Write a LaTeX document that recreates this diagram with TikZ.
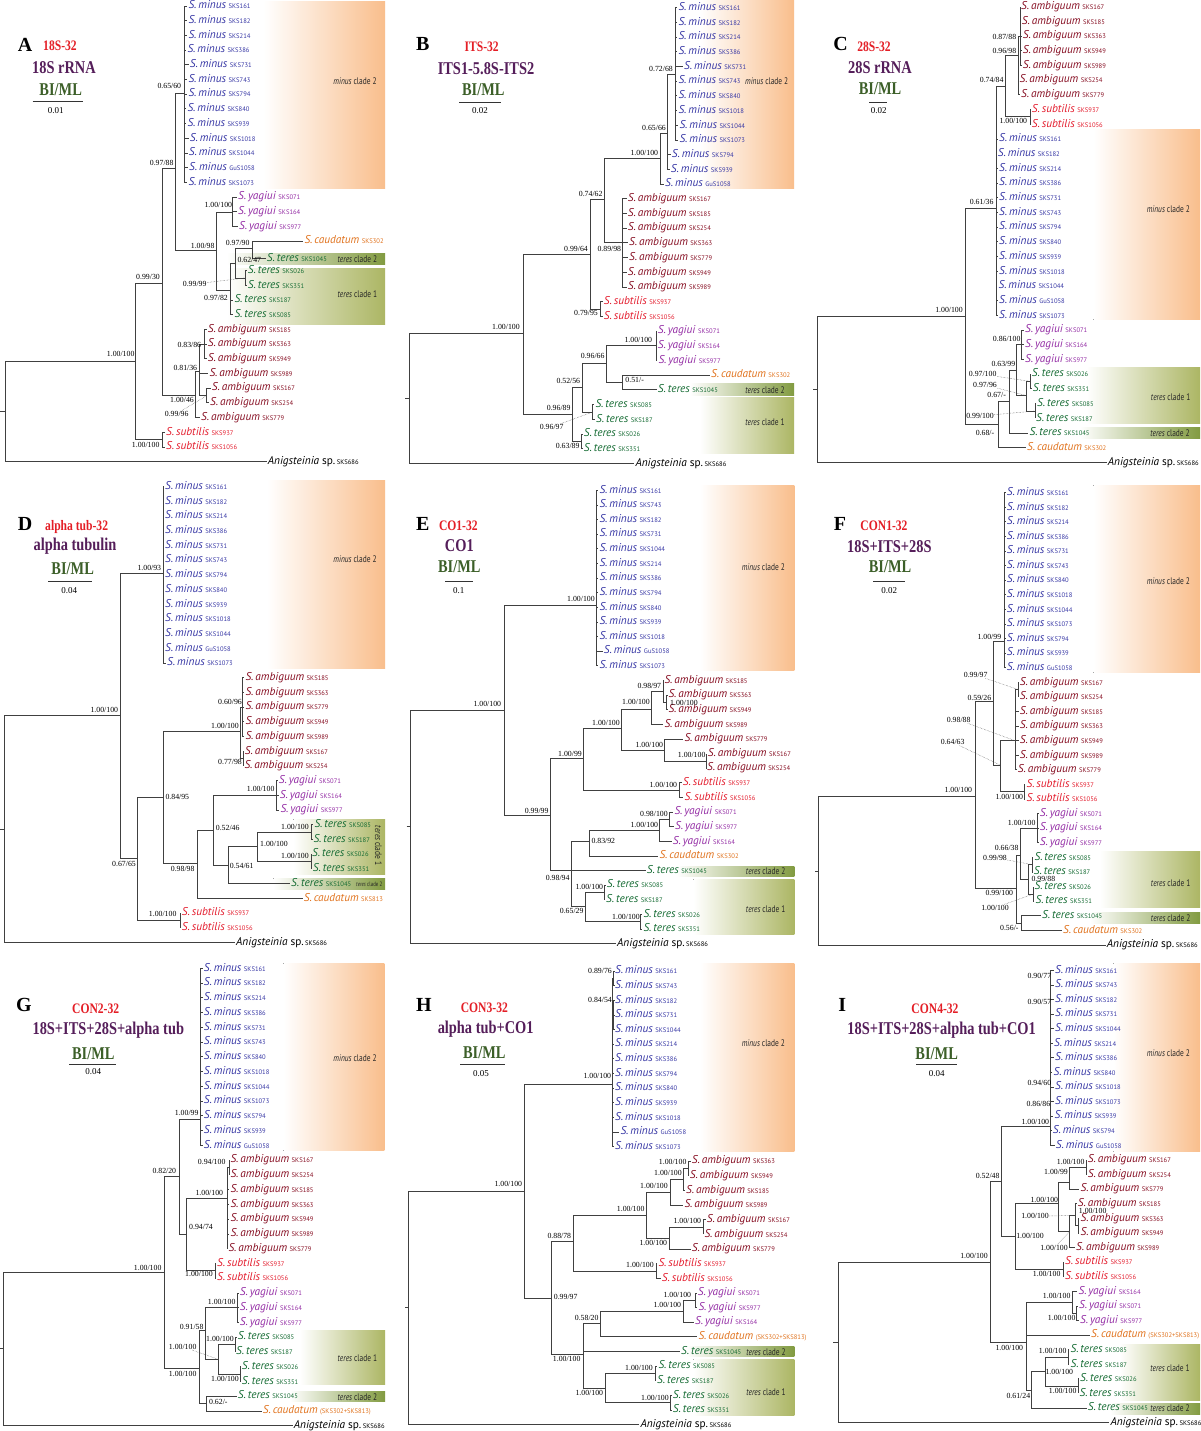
\documentclass[tikz,border=0pt]{standalone}
\usepackage{fontspec}
\setmainfont{Liberation Serif}
\newfontfamily\txfont{PT Sans}
\newfontfamily\ttlfont[FakeStretch=0.8]{Liberation Serif}
\newfontfamily\cladefont[FakeStretch=0.78]{PT Sans}
\definecolor{cmi}{RGB}{55,55,165}
\definecolor{cam}{RGB}{135,15,35}
\definecolor{csu}{RGB}{228,28,45}
\definecolor{cya}{RGB}{148,45,165}
\definecolor{cte}{RGB}{22,108,52}
\definecolor{cca}{RGB}{225,115,30}
\definecolor{tred}{RGB}{228,30,38}
\definecolor{tpur}{RGB}{85,30,90}
\definecolor{tgrn}{RGB}{60,95,40}
\definecolor{corg}{RGB}{249,190,140}
\definecolor{cteA}{RGB}{172,182,100}
\definecolor{cteB}{RGB}{130,155,65}
\newcommand\codefont{\fontsize{6.6}{6.6}\selectfont}
\newcommand\spn[2]{\textit{S.\hspace{1.8pt}#1}\hspace{2.5pt}{\codefont #2}}
\newcommand\PY{0}
\newcommand\PDY{44}
\newcommand\leafat[5]{\coordinate (#1) at (#2,{\PY+\PDY*#3});\node[leafn,#4] (#1t) at (#1) {#5};}
\newcommand\MI[4]{\leafat{#1}{#2}{#3}{text=cmi}{\spn{minus}{#4}}}
\newcommand\AM[4]{\leafat{#1}{#2}{#3}{text=cam}{\spn{ambiguum}{#4}}}
\newcommand\SU[4]{\leafat{#1}{#2}{#3}{text=csu}{\spn{subtilis}{#4}}}
\newcommand\YA[4]{\leafat{#1}{#2}{#3}{text=cya}{\spn{yagiui}{#4}}}
\newcommand\TE[4]{\leafat{#1}{#2}{#3}{text=cte}{\spn{teres}{#4}}}
\newcommand\CA[4]{\leafat{#1}{#2}{#3}{text=cca}{\spn{caudatum}{#4}}}
\newcommand\AN[3]{\leafat{#1}{#2}{#3}{text=black}{\textit{Anigsteinia} sp.\hspace{1.5pt}{\codefont SKS686}}}
\newcommand\inode[3]{\coordinate (#1) at (#2,#3);}
\newcommand\edges[2]{\foreach \kid in {#2}{\draw[brch] (#1) |- (\kid);}}
\newcommand\edgesr[4]{\foreach \kid in {#3,...,#4}{\draw[brch] (#1) |- (#2\kid);}}
\newcounter{sc}
\newcommand\supp[3]{\stepcounter{sc}\node[supv] (s\number\value{sc}) at (#1,#2) {#3};}
\newcommand\lead[4]{\supp{#1}{#2}{#3}\draw[leadl] (s\number\value{sc}) -- (#4);}
\newcommand\cbox[5]{\fill[left color=white,right color=#1] (#2,#3) rectangle (#4,#5);}
\tikzset{
 brch/.style={line width=0.8pt,draw=black!75},
 leadl/.style={densely dotted,line width=0.45pt,draw=black!70},
 leafn/.style={anchor=west,inner sep=1pt,font=\txfont\fontsize{11.3}{12}\selectfont,text height=8pt,text depth=2.5pt},
 supv/.style={font=\fontsize{7.8}{8}\selectfont,inner sep=0.5pt},
 plet/.style={font=\bfseries\fontsize{20}{20}\selectfont},
 psub/.style={text=tred,font=\ttlfont\bfseries\fontsize{14.5}{15}\selectfont},
 pgene/.style={text=tpur,font=\ttlfont\bfseries\fontsize{18}{18}\selectfont},
 pbim/.style={text=tgrn,font=\ttlfont\bfseries\fontsize{18}{18}\selectfont},
 pscl/.style={font=\fontsize{9}{9}\selectfont},
 sbar/.style={line width=0.9pt,draw=black!80},
 clab/.style={font=\cladefont\fontsize{9.5}{10}\selectfont,text=black!85},
 panel/.style={x=0.33333pt,y=-0.33333pt}
}
\begin{document}
\begin{tikzpicture}[x=1pt,y=-1pt]
\fill[white] (0,0) rectangle (1200,1431);
\useasboundingbox (0,0) rectangle (1200,1431);
%%%%%%%%%%%%%%%% A
\begin{scope}[xshift=0pt,yshift=0pt,panel]
\renewcommand\PY{18}\renewcommand\PDY{44.1}
\cbox{corg}{790}{5}{1155}{565}
\cbox{cteB}{680}{762}{1155}{795}
\cbox{cteA}{680}{807}{1155}{973}
\node[clab] (Acl1) at (1065,245) {\textit{minus} clade 2};
\node[clab] (Acl2) at (1072,779) {\textit{teres} clade 2};
\node[clab] (Acl3) at (1072,882) {\textit{teres} clade 1};
\node[plet] (Alet) at (75,135) {A};
\node[psub] (Asub) at (180,138) {18S-32};
\node[pgene] (Agen) at (192,203) {18S rRNA};
\node[pbim] (Abim) at (182,268) {BI/ML};
\draw[sbar] (98,305) -- (248,305);
\node[pscl] (Ascl) at (167,333) {0.01};
\MI{A0}{562}{0}{SKS161}
\MI{A1}{562}{1}{SKS182}
\MI{A2}{562}{2}{SKS214}
\MI{A3}{559}{3}{SKS386}
\MI{A4}{566}{4}{SKS731}
\MI{A5}{562}{5}{SKS743}
\MI{A6}{562}{6}{SKS794}
\MI{A7}{559}{7}{SKS840}
\MI{A8}{559}{8}{SKS939}
\MI{A9}{566}{9}{SKS1018}
\MI{A10}{563}{10}{SKS1044}
\MI{A11}{564}{11}{GuS1058}
\MI{A12}{562}{12}{SKS1073}
\YA{A13}{711}{13}{SKS071}
\YA{A14}{711}{14}{SKS164}
\YA{A15}{714}{15}{SKS977}
\CA{A16}{910}{16}{SKS302}
\TE{A17}{797}{17.2}{SKS1045}
\TE{A18}{740}{18}{SKS026}
\TE{A19}{740}{19}{SKS351}
\TE{A20}{700}{20}{SKS187}
\TE{A21}{700}{21}{SKS085}
\AM{A22}{620}{22}{SKS185}
\AM{A23}{620}{23}{SKS363}
\AM{A24}{620}{24}{SKS949}
\AM{A25}{625}{25}{SKS989}
\AM{A26}{632}{26}{SKS167}
\AM{A27}{627}{27}{SKS254}
\AM{A28}{600}{28}{SKS779}
\SU{A29}{495}{29}{SKS937}
\SU{A30}{495}{30}{SKS1056}
\AN{A31}{800}{31}
\inode{Ar}{15}{1235}\inode{Ast}{0}{1235}
\inode{Ab}{407}{1083}\inode{Ac}{487}{850}\inode{Ad}{527}{505}\inode{Ae}{553}{280}
\inode{Af}{650}{752}\inode{Ag}{697}{636}\inode{Ah}{690}{872}\inode{Ai}{707}{790}
\inode{Aj}{757}{745}\inode{Ak}{735}{834}\inode{Al}{585}{1185}\inode{Am}{597}{1115}
\inode{An}{612}{1032}\inode{Ao}{620}{1187}\inode{Ap}{487}{1319}
\draw[brch] (Ast) -- (Ar);
\edges{Ar}{Ab,A31}
\edges{Ab}{Ac,Ap}
\edges{Ac}{Ad,Al}
\edges{Ad}{Ae,Af}
\edgesr{Ae}{A}{0}{12}
\edges{Af}{Ag,Ah}
\edgesr{Ag}{A}{13}{15}
\edges{Ah}{Ai,A20,A21}
\edges{Ai}{Aj,Ak}
\edges{Aj}{A16,A17}
\edges{Ak}{A18,A19}
\edges{Al}{Am,A28}
\edges{Am}{An,A25,Ao}
\edgesr{An}{A}{22}{24}
\edges{Ao}{A26,A27}
\edges{Ap}{A29,A30}
\supp{508}{258}{0.65/60}
\supp{485}{490}{0.97/88}
\supp{608}{737}{1.00/98}
\supp{655}{614}{1.00/100}
\supp{713}{728}{0.97/90}
\supp{748}{780}{0.62/47}
\lead{584}{852}{0.99/99}{Ak}
\supp{648}{893}{0.97/82}
\supp{444}{830}{0.99/30}
\supp{362}{1062}{1.00/100}
\supp{568}{1035}{0.83/86}
\supp{556}{1103}{0.81/36}
\supp{546}{1200}{1.00/46}
\lead{530}{1241}{0.99/96}{Ao}
\supp{437}{1335}{1.00/100}
\end{scope}
%%%%%%%%%%%%%%%% B
\begin{scope}[xshift=400pt,yshift=0pt,panel]
\renewcommand\PY{23}\renewcommand\PDY{44.1}
\cbox{corg}{900}{0}{1182}{565}
\cbox{cteB}{870}{1152}{1182}{1187}
\cbox{cteA}{900}{1192}{1182}{1360}
\node[clab] (Bcl1) at (1100,245) {\textit{minus} clade 2};
\node[clab] (Bcl2) at (1095,1170) {\textit{teres} clade 2};
\node[clab] (Bcl3) at (1095,1268) {\textit{teres} clade 1};
\node[plet] (Blet) at (68,133) {B};
\node[psub] (Bsub) at (245,140) {ITS-32};
\node[pgene] (Bgen) at (258,205) {ITS1-5.8S-ITS2};
\node[pbim] (Bbim) at (250,270) {BI/ML};
\draw[sbar] (178,306) -- (302,306);
\node[pscl] (Bscl) at (240,333) {0.02};
\MI{B0}{832}{0}{SKS161}
\MI{B1}{832}{1}{SKS182}
\MI{B2}{832}{2}{SKS214}
\MI{B3}{832}{3}{SKS386}
\MI{B4}{849}{4}{SKS731}
\MI{B5}{832}{5}{SKS743}
\MI{B6}{832}{6}{SKS840}
\MI{B7}{832}{7}{SKS1018}
\MI{B8}{835}{8}{SKS1044}
\MI{B9}{835}{9}{SKS1073}
\MI{B10}{812}{10}{SKS794}
\MI{B11}{809}{11}{SKS939}
\MI{B12}{792}{12}{GuS1058}
\AM{B13}{680}{13}{SKS167}
\AM{B14}{680}{14}{SKS185}
\AM{B15}{680}{15}{SKS254}
\AM{B16}{684}{16}{SKS363}
\AM{B17}{684}{17}{SKS779}
\AM{B18}{680}{18}{SKS949}
\AM{B19}{680}{19}{SKS989}
\SU{B20}{608}{20}{SKS937}
\SU{B21}{608}{21}{SKS1056}
\YA{B22}{770}{22}{SKS071}
\YA{B23}{770}{23}{SKS164}
\YA{B24}{772}{24}{SKS977}
\CA{B25}{930}{25}{SKS302}
\TE{B26}{770}{26}{SKS1045}
\TE{B27}{583}{27}{SKS085}
\TE{B28}{585}{28}{SKS187}
\TE{B29}{548}{29}{SKS026}
\TE{B30}{548}{30}{SKS351}
\AN{B31}{703}{31}
\inode{Br}{28}{1195}\inode{Bst}{15}{1195}
\inode{Bb}{370}{1000}\inode{Bc}{570}{763}\inode{Bd}{612}{598}\inode{Be}{780}{475}
\inode{Bh}{803}{400}\inode{Bi}{826}{222}\inode{Bg}{668}{727}\inode{Bf}{602}{927}
\inode{Bm}{518}{1242}\inode{Bn}{547}{1163}\inode{Bo}{620}{1090}\inode{Bp}{768}{1037}
\inode{Bq}{668}{1147}\inode{Bt}{578}{1236}\inode{Bs}{545}{1324}
\draw[brch] (Bst) -- (Br);
\edges{Br}{Bb,B31}
\edges{Bb}{Bc,Bm}
\edges{Bc}{Bd,Bf}
\edges{Bd}{Be,Bg}
\edges{Be}{Bh,B12}
\edges{Bh}{Bi,B10,B11}
\edgesr{Bi}{B}{0}{9}
\edgesr{Bg}{B}{13}{19}
\edges{Bf}{B20,B21}
\edges{Bm}{Bn,Bs}
\edges{Bn}{Bo,Bt}
\edges{Bo}{Bp,Bq}
\edgesr{Bp}{B}{22}{24}
\edges{Bq}{B25,B26}
\edges{Bt}{B27,B28}
\edges{Bs}{B29,B30}
\supp{783}{207}{0.72/68}
\supp{762}{383}{0.65/66}
\supp{733}{459}{1.00/100}
\supp{572}{582}{0.74/62}
\supp{628}{746}{0.89/98}
\supp{528}{746}{0.99/64}
\supp{558}{940}{0.79/95}
\supp{318}{981}{1.00/100}
\supp{715}{1019}{1.00/100}
\supp{578}{1067}{0.96/66}
\supp{704}{1141}{0.51/-}
\supp{505}{1142}{0.52/56}
\supp{476}{1224}{0.96/89}
\lead{455}{1281}{0.96/97}{Bt}
\supp{503}{1337}{0.63/89}
\end{scope}
%%%%%%%%%%%%%%%% C
\begin{scope}[xshift=800pt,yshift=0pt,panel]
\renewcommand\PY{20}\renewcommand\PDY{44.1}
\cbox{corg}{880}{390}{1200}{960}
\cbox{cteA}{860}{1103}{1200}{1270}
\cbox{cteB}{840}{1284}{1200}{1315}
\node[clab] (Ccl1) at (1105,628) {\textit{minus} clade 2};
\node[clab] (Ccl2) at (1112,1193) {\textit{teres} clade 1};
\node[clab] (Ccl3) at (1110,1300) {\textit{teres} clade 2};
\node[plet] (Clet) at (122,132) {C};
\node[psub] (Csub) at (222,140) {28S-32};
\node[pgene] (Cgen) at (240,202) {28S rRNA};
\node[pbim] (Cbim) at (240,265) {BI/ML};
\draw[sbar] (208,306) -- (262,306);
\node[pscl] (Cscl) at (236,333) {0.02};
\AM{C0}{660}{0}{SKS167}
\AM{C1}{662}{1}{SKS185}
\AM{C2}{665}{2}{SKS363}
\AM{C3}{665}{3}{SKS949}
\AM{C4}{665}{4}{SKS989}
\AM{C5}{655}{5}{SKS254}
\AM{C6}{660}{6}{SKS779}
\SU{C7}{692}{7}{SKS937}
\SU{C8}{692}{8}{SKS1056}
\MI{C9}{594}{9}{SKS161}
\MI{C10}{590}{10}{SKS182}
\MI{C11}{594}{11}{SKS214}
\MI{C12}{594}{12}{SKS386}
\MI{C13}{594}{13}{SKS731}
\MI{C14}{594}{14}{SKS743}
\MI{C15}{594}{15}{SKS794}
\MI{C16}{594}{16}{SKS840}
\MI{C17}{594}{17}{SKS939}
\MI{C18}{594}{18}{SKS1018}
\MI{C19}{592}{19}{SKS1044}
\MI{C20}{594}{20}{GuS1058}
\MI{C21}{594}{21}{SKS1073}
\YA{C22}{672}{22}{SKS071}
\YA{C23}{672}{23}{SKS164}
\YA{C24}{672}{24}{SKS977}
\TE{C25}{692}{25}{SKS026}
\TE{C26}{695}{26}{SKS351}
\TE{C27}{708}{27}{SKS085}
\TE{C28}{705}{28}{SKS187}
\TE{C29}{685}{29}{SKS1045}
\CA{C30}{678}{30}{SKS302}
\AN{C31}{920}{31}
\inode{Cr}{52}{1168}\inode{Cst}{40}{1168}
\inode{Cb}{495}{948}\inode{Cc}{588}{625}\inode{Cd}{617}{258}\inode{Ce}{655}{165}
\inode{Cg}{660}{108}\inode{Cf}{690}{350}\inode{Cl}{595}{1272}\inode{Ck}{627}{1205}
\inode{Cj}{650}{1110}\inode{Ch}{665}{1034}\inode{Ci}{680}{1187}\inode{Cm}{690}{1144}
\inode{Cn}{705}{1233}
\draw[brch] (Cst) -- (Cr);
\edges{Cr}{Cb,C31}
\edges{Cb}{Cc,Cl}
\edges{Cc}{Cd}
\edgesr{Cc}{C}{9}{21}
\edges{Cd}{Ce,Cf}
\edges{Ce}{Cg,C5,C6}
\edgesr{Cg}{C}{0}{4}
\edges{Cf}{C7,C8}
\edges{Cl}{Ck,C30}
\edges{Ck}{Cj,C29}
\edges{Cj}{Ch,Ci}
\edgesr{Ch}{C}{22}{24}
\edges{Ci}{Cm,Cn}
\edges{Cm}{C25,C26}
\edges{Cn}{C27,C28}
\supp{613}{110}{0.87/88}
\supp{613}{152}{0.96/98}
\supp{575}{240}{0.74/84}
\supp{640}{363}{1.00/100}
\supp{545}{607}{0.61/36}
\supp{447}{930}{1.00/100}
\supp{620}{1018}{0.86/100}
\supp{610}{1093}{0.63/99}
\lead{548}{1123}{0.97/100}{Cm}
\lead{555}{1155}{0.97/96}{Ci}
\lead{540}{1248}{0.99/100}{Cn}
\supp{590}{1185}{0.67/-}
\supp{555}{1298}{0.68/-}
\end{scope}
%%%%%%%%%%%%%%%% D
\begin{scope}[xshift=0pt,yshift=-475pt,panel]
\renewcommand\PY{35}\renewcommand\PDY{44.1}
\cbox{corg}{800}{15}{1155}{580}
\cbox{cteA}{880}{1033}{1155}{1198}
\cbox{cteB}{820}{1210}{1155}{1243}
\node[clab] (Dcl1) at (1065,253) {\textit{minus} clade 2};
\node[clab,rotate=-90] (Dcl2) at (1135,1112) {\textit{teres} clade 1};
\node[clab,font=\cladefont\fontsize{6.3}{7}\selectfont] (Dcl3) at (1108,1229) {\textit{teres} clade 2};
\node[plet] (Dlet) at (75,148) {D};
\node[psub] (Dsub) at (230,155) {alpha tub-32};
\node[pgene] (Dgen) at (225,215) {alpha tubulin};
\node[pbim] (Dbim) at (218,280) {BI/ML};
\draw[sbar] (145,320) -- (275,320);
\node[pscl] (Dscl) at (208,348) {0.04};
\MI{D0}{492}{0}{SKS161}
\MI{D1}{492}{1}{SKS182}
\MI{D2}{492}{2}{SKS214}
\MI{D3}{492}{3}{SKS386}
\MI{D4}{492}{4}{SKS731}
\MI{D5}{492}{5}{SKS743}
\MI{D6}{492}{6}{SKS794}
\MI{D7}{492}{7}{SKS840}
\MI{D8}{492}{8}{SKS939}
\MI{D9}{492}{9}{SKS1018}
\MI{D10}{492}{10}{SKS1044}
\MI{D11}{492}{11}{GuS1058}
\MI{D12}{498}{12}{SKS1073}
\AM{D13}{733}{13}{SKS185}
\AM{D14}{733}{14}{SKS363}
\AM{D15}{733}{15}{SKS779}
\AM{D16}{733}{16}{SKS949}
\AM{D17}{733}{17}{SKS989}
\AM{D18}{731}{18}{SKS167}
\AM{D19}{730}{19}{SKS254}
\YA{D20}{833}{20}{SKS071}
\YA{D21}{836}{21}{SKS164}
\YA{D22}{838}{22}{SKS977}
\TE{D23}{940}{23}{SKS085}
\TE{D24}{937}{24}{SKS187}
\TE{D25}{933}{25}{SKS026}
\TE{D26}{935}{26}{SKS351}
\TE{D27}{870}{27}{SKS1045}
\CA{D28}{908}{28}{SKS813}
\SU{D29}{542}{29}{SKS937}
\SU{D30}{542}{30}{SKS1056}
\AN{D31}{705}{31}
\inode{Dr}{12}{1062}\inode{Dst}{0}{1062}
\inode{Db}{362}{722}\inode{Dc}{490}{295}\inode{Dd}{413}{1150}\inode{De}{490}{968}
\inode{Df}{722}{770}\inode{Dh}{728}{696}\inode{Di}{730}{850}\inode{Dg}{592}{1165}
\inode{Dj}{640}{1065}\inode{Dk}{828}{961}\inode{Dl}{685}{1170}\inode{Dm}{773}{1114}
\inode{Dn}{935}{1071}\inode{Do}{935}{1159}\inode{Dq}{540}{1336}
\draw[brch] (Dst) -- (Dr);
\edges{Dr}{Db,D31}
\edges{Db}{Dc,Dd}
\edgesr{Dc}{D}{0}{12}
\edges{Dd}{De,Dq}
\edges{De}{Df,Dg}
\edges{Df}{Dh,Di}
\edgesr{Dh}{D}{13}{17}
\edges{Di}{D18,D19}
\edges{Dg}{Dj,D28}
\edges{Dj}{Dk,Dl}
\edgesr{Dk}{D}{20}{22}
\edges{Dl}{Dm,D27}
\edges{Dm}{Dn,Do}
\edges{Dn}{D23,D24}
\edges{Do}{D25,D26}
\edges{Dq}{D29,D30}
\supp{448}{278}{1.00/93}
\supp{313}{705}{1.00/100}
\supp{690}{680}{0.60/96}
\supp{675}{752}{1.00/100}
\supp{690}{860}{0.77/98}
\supp{532}{965}{0.84/95}
\supp{782}{942}{1.00/100}
\supp{683}{1060}{0.52/46}
\supp{885}{1055}{1.00/100}
\supp{822}{1108}{1.00/100}
\supp{885}{1142}{1.00/100}
\supp{725}{1173}{0.54/61}
\supp{548}{1183}{0.98/98}
\supp{372}{1167}{0.67/65}
\supp{488}{1318}{1.00/100}
\end{scope}
%%%%%%%%%%%%%%%% E
\begin{scope}[xshift=400pt,yshift=-475pt,panel]
\renewcommand\PY{46}\renewcommand\PDY{43.87}
\cbox{corg}{900}{30}{1183}{585}
\cbox{cteB}{830}{1175}{1183}{1205}
\cbox{cteA}{880}{1212}{1183}{1378}
\node[clab] (Ecl1) at (1090,278) {\textit{minus} clade 2};
\node[clab] (Ecl2) at (1097,1190) {\textit{teres} clade 2};
\node[clab] (Ecl3) at (1097,1302) {\textit{teres} clade 1};
\node[plet] (Elet) at (68,148) {E};
\node[psub] (Esub) at (175,153) {CO1-32};
\node[pgene] (Egen) at (178,212) {CO1};
\node[pbim] (Ebim) at (178,275) {BI/ML};
\draw[sbar] (135,318) -- (218,318);
\node[pscl] (Escl) at (176,348) {0.1};
\MI{E0}{595}{0}{SKS161}
\MI{E1}{595}{1}{SKS743}
\MI{E2}{595}{2}{SKS182}
\MI{E3}{595}{3}{SKS731}
\MI{E4}{595}{4}{SKS1044}
\MI{E5}{595}{5}{SKS214}
\MI{E6}{595}{6}{SKS386}
\MI{E7}{595}{7}{SKS794}
\MI{E8}{595}{8}{SKS840}
\MI{E9}{595}{9}{SKS939}
\MI{E10}{595}{10}{SKS1018}
\MI{E11}{608}{11}{GuS1058}
\MI{E12}{595}{12}{SKS1073}
\AM{E13}{790}{13}{SKS185}
\AM{E14}{802}{14}{SKS363}
\AM{E15}{802}{15}{SKS949}
\AM{E16}{790}{16}{SKS989}
\AM{E17}{850}{17}{SKS779}
\AM{E18}{920}{18}{SKS167}
\AM{E19}{918}{19}{SKS254}
\SU{E20}{845}{20}{SKS937}
\SU{E21}{850}{21}{SKS1056}
\YA{E22}{820}{22}{SKS071}
\YA{E23}{822}{23}{SKS977}
\YA{E24}{815}{24}{SKS164}
\CA{E25}{775}{25}{SKS302}
\TE{E26}{737}{26}{SKS1045}
\TE{E27}{617}{27}{SKS085}
\TE{E28}{615}{28}{SKS187}
\TE{E29}{727}{29}{SKS026}
\TE{E30}{727}{30}{SKS351}
\AN{E31}{648}{31}
\inode{Er}{30}{1055}\inode{Est}{20}{1055}
\inode{Eb}{313}{705}\inode{Ec}{590}{390}\inode{Ed}{452}{1022}\inode{Ee}{550}{850}
\inode{Eg}{663}{760}\inode{Ei}{755}{702}\inode{Ek}{790}{650}\inode{El}{800}{682}
\inode{Ej}{793}{825}\inode{Em}{920}{858}\inode{Eh}{838}{945}\inode{Ef}{515}{1187}
\inode{En}{568}{1100}\inode{Ep}{778}{1066}\inode{Eq}{808}{1033}\inode{Eo}{555}{1295}
\inode{Es}{613}{1252}\inode{Et}{722}{1340}
\draw[brch] (Est) -- (Er);
\edges{Er}{Eb,E31}
\edges{Eb}{Ec,Ed}
\edgesr{Ec}{E}{0}{12}
\edges{Ed}{Ee,Ef}
\edges{Ee}{Eg,Eh}
\edges{Eg}{Ei,Ej}
\edges{Ei}{Ek,E16}
\edges{Ek}{E13,El}
\edges{El}{E14,E15}
\edges{Ej}{E17,Em}
\edges{Em}{E18,E19}
\edges{Eh}{E20,E21}
\edges{Ef}{En,E26,Eo}
\edges{En}{Ep,E25}
\edges{Ep}{Eq,E24}
\edges{Eq}{E22,E23}
\edges{Eo}{Es,Et}
\edges{Es}{E27,E28}
\edges{Et}{E29,E30}
\supp{543}{372}{1.00/100}
\supp{262}{688}{1.00/100}
\supp{410}{1008}{0.99/99}
\supp{510}{837}{1.00/99}
\supp{618}{745}{1.00/100}
\supp{708}{682}{1.00/100}
\supp{748}{634}{0.98/97}
\supp{852}{684}{1.00/100}
\supp{748}{810}{1.00/100}
\supp{875}{840}{1.00/100}
\supp{790}{930}{1.00/100}
\supp{762}{1017}{0.98/100}
\supp{733}{1050}{1.00/100}
\supp{610}{1099}{0.83/92}
\supp{473}{1208}{0.98/94}
\supp{568}{1236}{1.00/100}
\supp{678}{1326}{1.00/100}
\supp{515}{1307}{0.65/29}
\end{scope}
%%%%%%%%%%%%%%%% F
\begin{scope}[xshift=800pt,yshift=-475pt,panel]
\renewcommand\PY{53}\renewcommand\PDY{43.77}
\cbox{corg}{880}{30}{1200}{593}
\cbox{cteA}{900}{1130}{1200}{1297}
\cbox{cteB}{870}{1313}{1200}{1345}
\node[clab] (Fcl1) at (1105,320) {\textit{minus} clade 2};
\node[clab] (Fcl2) at (1112,1225) {\textit{teres} clade 1};
\node[clab] (Fcl3) at (1112,1330) {\textit{teres} clade 2};
\node[plet] (Flet) at (120,148) {F};
\node[psub] (Fsub) at (252,153) {CON1-32};
\node[pgene] (Fgen) at (268,215) {18S+ITS+28S};
\node[pbim] (Fbim) at (270,275) {BI/ML};
\draw[sbar] (220,320) -- (315,320);
\node[pscl] (Fscl) at (268,348) {0.02};
\MI{F0}{617}{0}{SKS161}
\MI{F1}{617}{1}{SKS182}
\MI{F2}{617}{2}{SKS214}
\MI{F3}{617}{3}{SKS386}
\MI{F4}{617}{4}{SKS731}
\MI{F5}{617}{5}{SKS743}
\MI{F6}{617}{6}{SKS840}
\MI{F7}{617}{7}{SKS1018}
\MI{F8}{617}{8}{SKS1044}
\MI{F9}{617}{9}{SKS1073}
\MI{F10}{617}{10}{SKS794}
\MI{F11}{617}{11}{SKS939}
\MI{F12}{617}{12}{GuS1058}
\AM{F13}{656}{13}{SKS167}
\AM{F14}{656}{14}{SKS254}
\AM{F15}{656}{15}{SKS185}
\AM{F16}{656}{16}{SKS363}
\AM{F17}{656}{17}{SKS949}
\AM{F18}{656}{18}{SKS989}
\AM{F19}{650}{19}{SKS779}
\SU{F20}{676}{20}{SKS937}
\SU{F21}{676}{21}{SKS1056}
\YA{F22}{716}{22}{SKS071}
\YA{F23}{716}{23}{SKS164}
\YA{F24}{716}{24}{SKS977}
\TE{F25}{700}{25}{SKS085}
\TE{F26}{698}{26}{SKS187}
\TE{F27}{700}{27}{SKS026}
\TE{F28}{703}{28}{SKS351}
\TE{F29}{723}{29}{SKS1045}
\CA{F30}{786}{30}{SKS302}
\AN{F31}{917}{31}
\inode{Fr}{55}{1188}\inode{Fst}{45}{1188}
\inode{Fb}{525}{965}\inode{Fc}{580}{680}\inode{Fd}{612}{500}\inode{Fe}{600}{870}
\inode{Ff}{645}{797}\inode{Fg}{656}{644}\inode{Fj}{673}{950}\inode{Fk}{650}{1240}
\inode{Fl}{662}{1140}\inode{Fm}{713}{1060}\inode{Fn}{685}{1213}\inode{Fo}{697}{1169}
\inode{Fp}{700}{1257}\inode{Fq}{665}{1344}
\draw[brch] (Fst) -- (Fr);
\edges{Fr}{Fb,F31}
\edges{Fb}{Fc,Fk}
\edges{Fc}{Fd,Fe}
\edgesr{Fd}{F}{0}{12}
\edges{Fe}{Ff,Fj}
\edges{Ff}{Fg}
\edgesr{Ff}{F}{15}{19}
\edges{Fg}{F13,F14}
\edges{Fj}{F20,F21}
\edges{Fk}{Fl,Fq}
\edges{Fl}{Fm,Fn}
\edgesr{Fm}{F}{22}{24}
\edges{Fn}{Fo,Fp}
\edges{Fo}{F25,F26}
\edges{Fp}{F27,F28}
\edges{Fq}{F29,F30}
\supp{568}{487}{1.00/99}
\lead{527}{600}{0.99/97}{Fg}
\supp{538}{670}{0.59/26}
\lead{476}{735}{0.98/88}{Ff}
\lead{458}{802}{0.64/63}{Fe}
\supp{628}{966}{1.00/100}
\supp{475}{946}{1.00/100}
\supp{665}{1043}{1.00/100}
\supp{620}{1120}{0.66/38}
\lead{585}{1148}{0.99/98}{Fo}
\supp{730}{1212}{0.99/88}
\lead{585}{1298}{1.00/100}{Fp}
\supp{598}{1255}{0.99/100}
\supp{628}{1360}{0.56/-}
\end{scope}
%%%%%%%%%%%%%%%% G
\begin{scope}[xshift=0pt,yshift=-955pt,panel]
\renewcommand\PY{40}\renewcommand\PDY{44.26}
\cbox{corg}{850}{25}{1153}{587}
\cbox{cteA}{900}{1127}{1155}{1287}
\cbox{cteB}{870}{1308}{1155}{1340}
\node[clab] (Gcl1) at (1065,310) {\textit{minus} clade 2};
\node[clab] (Gcl2) at (1072,1210) {\textit{teres} clade 1};
\node[clab] (Gcl3) at (1072,1325) {\textit{teres} clade 2};
\node[plet] (Glet) at (72,150) {G};
\node[psub] (Gsub) at (287,160) {CON2-32};
\node[pgene] (Ggen) at (325,225) {18S+ITS+28S+alpha tub};
\node[pbim] (Gbim) at (280,295) {BI/ML};
\draw[sbar] (208,327) -- (348,327);
\node[pscl] (Gscl) at (280,350) {0.04};
\MI{G0}{608}{0}{SKS161}
\MI{G1}{608}{1}{SKS182}
\MI{G2}{608}{2}{SKS214}
\MI{G3}{608}{3}{SKS386}
\MI{G4}{608}{4}{SKS731}
\MI{G5}{608}{5}{SKS743}
\MI{G6}{608}{6}{SKS840}
\MI{G7}{608}{7}{SKS1018}
\MI{G8}{608}{8}{SKS1044}
\MI{G9}{608}{9}{SKS1073}
\MI{G10}{608}{10}{SKS794}
\MI{G11}{608}{11}{SKS939}
\MI{G12}{608}{12}{GuS1058}
\AM{G13}{688}{13}{SKS167}
\AM{G14}{688}{14}{SKS254}
\AM{G15}{688}{15}{SKS185}
\AM{G16}{688}{16}{SKS363}
\AM{G17}{688}{17}{SKS949}
\AM{G18}{688}{18}{SKS989}
\AM{G19}{682}{19}{SKS779}
\SU{G20}{648}{20}{SKS937}
\SU{G21}{648}{21}{SKS1056}
\YA{G22}{716}{22}{SKS071}
\YA{G23}{716}{23}{SKS164}
\YA{G24}{716}{24}{SKS977}
\TE{G25}{710}{25}{SKS085}
\TE{G26}{705}{26}{SKS187}
\TE{G27}{722}{27}{SKS026}
\TE{G28}{722}{28}{SKS351}
\TE{G29}{710}{29}{SKS1045}
\CA{G30}{785}{30}{(SKS302+SKS813)}
\AN{G31}{878}{31}
\inode{Gr}{10}{1180}\inode{Gst}{0}{1180}
\inode{Gb}{493}{952}\inode{Gc}{537}{665}\inode{Gd}{600}{492}\inode{Ge}{560}{838}
\inode{Gf}{682}{730}\inode{Gg}{688}{637}\inode{Gh}{645}{947}\inode{Gm}{598}{1240}
\inode{Gn}{615}{1127}\inode{Go}{713}{1058}\inode{Gp}{655}{1213}\inode{Gq}{705}{1169}
\inode{Gt}{720}{1257}\inode{Gs}{620}{1346}
\draw[brch] (Gst) -- (Gr);
\edges{Gr}{Gb,G31}
\edges{Gb}{Gc,Gm}
\edges{Gc}{Gd,Ge}
\edgesr{Gd}{G}{0}{12}
\edges{Ge}{Gf,Gh}
\edges{Gf}{Gg}
\edgesr{Gf}{G}{15}{19}
\edges{Gg}{G13,G14}
\edges{Gh}{G20,G21}
\edges{Gm}{Gn,Gs}
\edges{Gn}{Go,Gp}
\edgesr{Go}{G}{22}{24}
\edges{Gp}{Gq,Gt}
\edges{Gq}{G25,G26}
\edges{Gt}{G27,G28}
\edges{Gs}{G29,G30}
\supp{560}{475}{1.00/99}
\supp{493}{648}{0.82/20}
\supp{635}{620}{0.94/100}
\supp{628}{713}{1.00/100}
\supp{603}{816}{0.94/74}
\supp{597}{958}{1.00/100}
\supp{443}{938}{1.00/100}
\supp{665}{1042}{1.00/100}
\supp{575}{1116}{0.91/58}
\supp{660}{1152}{1.00/100}
\lead{548}{1175}{1.00/100}{Gp}
\supp{675}{1272}{1.00/100}
\supp{548}{1258}{1.00/100}
\supp{655}{1340}{0.62/-}
\end{scope}
%%%%%%%%%%%%%%%% H
\begin{scope}[xshift=400pt,yshift=-955pt,panel]
\renewcommand\PY{48}\renewcommand\PDY{43.9}
\cbox{corg}{900}{25}{1183}{590}
\cbox{cteB}{860}{1175}{1183}{1205}
\cbox{cteA}{880}{1213}{1183}{1380}
\node[clab] (Hcl1) at (1090,263) {\textit{minus} clade 2};
\node[clab] (Hcl2) at (1098,1190) {\textit{teres} clade 2};
\node[clab] (Hcl3) at (1098,1312) {\textit{teres} clade 1};
\node[plet] (Hlet) at (72,150) {H};
\node[psub] (Hsub) at (253,158) {CON3-32};
\node[pgene] (Hgen) at (257,222) {alpha tub+CO1};
\node[pbim] (Hbim) at (253,293) {BI/ML};
\draw[sbar] (180,328) -- (315,328);
\node[pscl] (Hscl) at (243,355) {0.05};
\MI{H0}{642}{0}{SKS161}
\MI{H1}{642}{1}{SKS743}
\MI{H2}{642}{2}{SKS182}
\MI{H3}{642}{3}{SKS731}
\MI{H4}{642}{4}{SKS1044}
\MI{H5}{642}{5}{SKS214}
\MI{H6}{642}{6}{SKS386}
\MI{H7}{642}{7}{SKS794}
\MI{H8}{642}{8}{SKS840}
\MI{H9}{642}{9}{SKS939}
\MI{H10}{642}{10}{SKS1018}
\MI{H11}{658}{11}{GuS1058}
\MI{H12}{642}{12}{SKS1073}
\AM{H13}{872}{13}{SKS363}
\AM{H14}{866}{14}{SKS949}
\AM{H15}{855}{15}{SKS185}
\AM{H16}{850}{16}{SKS989}
\AM{H17}{917}{17}{SKS167}
\AM{H18}{910}{18}{SKS254}
\AM{H19}{872}{19}{SKS779}
\SU{H20}{772}{20}{SKS937}
\SU{H21}{782}{21}{SKS1056}
\YA{H22}{890}{22}{SKS071}
\YA{H23}{892}{23}{SKS977}
\YA{H24}{882}{24}{SKS164}
\CA{H25}{892}{25}{(SKS302+SKS813)}
\TE{H26}{840}{26}{SKS1045}
\TE{H27}{772}{27}{SKS085}
\TE{H28}{768}{28}{SKS187}
\TE{H29}{815}{29}{SKS026}
\TE{H30}{815}{30}{SKS351}
\AN{H31}{718}{31}
\inode{Hr}{25}{1058}\inode{Hst}{15}{1058}
\inode{Hb}{373}{708}\inode{Hc}{638}{387}\inode{Hx}{641}{70}\inode{Hy}{641}{180}
\inode{Hd}{455}{1030}\inode{He}{520}{860}\inode{Hf}{738}{780}\inode{Hg}{810}{712}
\inode{Hh}{850}{674}\inode{Hi}{865}{641}\inode{Hj}{808}{849}\inode{Hk}{910}{816}
\inode{Hl}{768}{948}\inode{Hm}{550}{1197}\inode{Hn}{600}{1105}\inode{Hp}{850}{1069}
\inode{Hq}{885}{1036}\inode{Ho}{615}{1299}\inode{Hs}{765}{1255}\inode{Ht}{812}{1343}
\draw[brch] (Hst) -- (Hr);
\edges{Hr}{Hb,H31}
\edges{Hb}{Hc,Hd}
\edges{Hc}{Hx,Hy}
\edgesr{Hc}{H}{5}{12}
\edges{Hx}{H0,H1}
\edgesr{Hy}{H}{2}{4}
\edges{Hd}{He,Hm}
\edges{He}{Hf,Hl}
\edges{Hf}{Hg,Hj}
\edges{Hg}{Hh,H16}
\edges{Hh}{Hi,H15}
\edges{Hi}{H13,H14}
\edges{Hj}{Hk,H19}
\edges{Hk}{H17,H18}
\edges{Hl}{H20,H21}
\edges{Hm}{Hn,H26,Ho}
\edges{Hn}{Hp,H25}
\edges{Hp}{Hq,H24}
\edges{Hq}{H22,H23}
\edges{Ho}{Hs,Ht}
\edges{Hs}{H27,H28}
\edges{Ht}{H29,H30}
\supp{600}{48}{0.89/76}
\supp{600}{136}{0.84/54}
\supp{592}{364}{1.00/100}
\supp{325}{688}{1.00/100}
\supp{818}{622}{1.00/100}
\supp{804}{655}{1.00/100}
\supp{762}{692}{1.00/100}
\supp{692}{762}{1.00/100}
\supp{862}{797}{1.00/100}
\supp{760}{864}{1.00/100}
\supp{720}{930}{1.00/100}
\supp{478}{843}{0.88/78}
\supp{497}{1027}{0.99/97}
\supp{832}{1020}{1.00/100}
\supp{802}{1050}{1.00/100}
\supp{560}{1088}{0.58/20}
\supp{500}{1213}{1.00/100}
\supp{717}{1240}{1.00/100}
\supp{765}{1328}{1.00/100}
\supp{568}{1315}{1.00/100}
\end{scope}
%%%%%%%%%%%%%%%% I
\begin{scope}[xshift=800pt,yshift=-955pt,panel]
\renewcommand\PY{46}\renewcommand\PDY{43.77}
\cbox{corg}{940}{25}{1200}{590}
\cbox{cteA}{960}{1168}{1200}{1337}
\cbox{cteB}{930}{1345}{1200}{1378}
\node[clab] (Icl1) at (1105,295) {\textit{minus} clade 2};
\node[clab] (Icl2) at (1110,1240) {\textit{teres} clade 1};
\node[clab] (Icl3) at (1110,1360) {\textit{teres} clade 2};
\node[plet] (Ilet) at (127,150) {I};
\node[psub] (Isub) at (405,160) {CON4-32};
\node[pgene] (Igen) at (425,225) {18S+ITS+28S+alpha tub+CO1};
\node[pbim] (Ibim) at (410,295) {BI/ML};
\draw[sbar] (348,328) -- (472,328);
\node[pscl] (Iscl) at (410,355) {0.04};
\MI{I0}{762}{0}{SKS161}
\MI{I1}{762}{1}{SKS743}
\MI{I2}{762}{2}{SKS182}
\MI{I3}{762}{3}{SKS731}
\MI{I4}{762}{4}{SKS1044}
\MI{I5}{759}{5}{SKS214}
\MI{I6}{762}{6}{SKS386}
\MI{I7}{757}{7}{SKS840}
\MI{I8}{762}{8}{SKS1018}
\MI{I9}{762}{9}{SKS1073}
\MI{I10}{760}{10}{SKS939}
\MI{I11}{755}{11}{SKS794}
\MI{I12}{764}{12}{GuS1058}
\AM{I13}{860}{13}{SKS167}
\AM{I14}{860}{14}{SKS254}
\AM{I15}{838}{15}{SKS779}
\AM{I16}{830}{16}{SKS185}
\AM{I17}{838}{17}{SKS363}
\AM{I18}{838}{18}{SKS949}
\AM{I19}{825}{19}{SKS989}
\SU{I20}{792}{20}{SKS937}
\SU{I21}{792}{21}{SKS1056}
\YA{I22}{832}{22}{SKS164}
\YA{I23}{834}{23}{SKS071}
\YA{I24}{837}{24}{SKS977}
\CA{I25}{870}{25}{(SKS302+SKS813)}
\TE{I26}{808}{26}{SKS085}
\TE{I27}{808}{27}{SKS187}
\TE{I28}{837}{28}{SKS026}
\TE{I29}{835}{29}{SKS351}
\TE{I30}{860}{30}{SKS1045}
\AN{I31}{928}{31}
\inode{Ir}{115}{1163}\inode{Ist}{100}{1163}
\inode{Ib}{570}{922}\inode{Ic}{605}{680}\inode{Id}{752}{515}\inode{Ie}{645}{845}
\inode{If}{775}{745}\inode{Ig}{808}{681}\inode{Ik}{860}{637}\inode{Ih}{808}{830}
\inode{Il}{825}{781}\inode{Im}{835}{812}\inode{Ii}{790}{943}\inode{Ij}{678}{1162}
\inode{In}{818}{1043}\inode{Ip}{830}{1075}\inode{Io}{695}{1305}\inode{Iq}{737}{1250}
\inode{Is}{805}{1206}\inode{It}{835}{1293}
\draw[brch] (Ist) -- (Ir);
\edges{Ir}{Ib,I31}
\edges{Ib}{Ic,Ij}
\edges{Ic}{Id,Ie}
\edgesr{Id}{I}{0}{12}
\edges{Ie}{If,Ii}
\edges{If}{Ig,Ih}
\edges{Ig}{Ik,I15}
\edges{Ik}{I13,I14}
\edges{Ih}{Il,I19}
\edges{Il}{I16,Im}
\edges{Im}{I17,I18}
\edges{Ii}{I20,I21}
\edges{Ij}{In,I25,Io}
\edges{In}{I22,Ip}
\edges{Ip}{I23,I24}
\edges{Io}{Iq,I30}
\edges{Iq}{Is,It}
\edges{Is}{I26,I27}
\edges{It}{I28,I29}
\supp{718}{63}{0.90/77}
\supp{718}{142}{0.90/57}
\supp{718}{385}{0.94/60}
\supp{715}{447}{0.86/86}
\supp{706}{500}{1.00/100}
\supp{563}{662}{0.52/48}
\supp{812}{620}{1.00/100}
\supp{768}{652}{1.00/99}
\supp{733}{735}{1.00/100}
\supp{878}{768}{1.00/100}
\lead{705}{784}{1.00/100}{Il}
\supp{690}{843}{1.00/100}
\lead{762}{880}{1.00/100}{Ih}
\supp{740}{958}{1.00/100}
\supp{770}{1022}{1.00/100}
\supp{785}{1088}{1.00/100}
\supp{628}{1180}{1.00/100}
\supp{758}{1188}{1.00/100}
\supp{778}{1250}{1.00/100}
\supp{788}{1308}{1.00/100}
\supp{655}{1322}{0.61/24}
\supp{522}{903}{1.00/100}
\end{scope}
\end{tikzpicture}
\end{document}
